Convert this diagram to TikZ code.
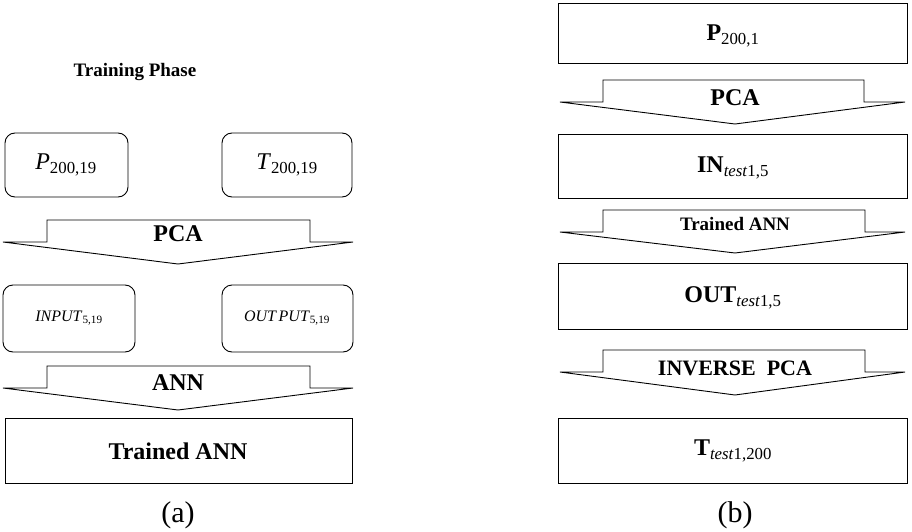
\documentclass[tikz,border=0pt]{standalone}
\usepackage{fontspec}
\setmainfont{Liberation Serif}
\newcommand{\sbs}[1]{\textsubscript{#1}}
\begin{document}
\begin{tikzpicture}[x=1pt,y=-1pt,line width=0.9pt,
  rbox/.style={draw,rounded corners=10pt},
  sbox/.style={draw},
  lbl/.style={font=\fontsize{24}{28}\selectfont\bfseries},
  txt/.style={font=\fontsize{24}{28}\selectfont},
  flow/.style={draw,line join=miter}]
\useasboundingbox (0,0) rectangle (912,532);
% left panel
\node[font=\fontsize{19}{22}\selectfont\bfseries] (title) at (135,72) {Training Phase};
\draw[rbox] (5,133) rectangle (128,197);
\node[txt] (p) at (66,165) {\textit{P}\sbs{200,19}};
\draw[rbox] (222,133) rectangle (352,197);
\node[txt] (t) at (287,165) {\textit{T}\sbs{200,19}};
\draw[flow] (3,242) -- (47,242) -- (47,220) -- (310,220) -- (310,242) -- (353,242) -- (178,264) -- cycle;
\node[lbl] (pca1) at (178,234) {PCA};
\draw[rbox] (3,285) rectangle (135,352);
\node[font=\fontsize{16}{18}\selectfont] (in) at (69,318) {\textit{INPUT}\sbs{5,19}};
\draw[rbox] (222,285) rectangle (353,352);
\node[font=\fontsize{16}{18}\selectfont] (out) at (287,318) {\textit{OUT\,PUT}\sbs{5,19}};
\draw[flow] (3,388) -- (47,388) -- (47,366) -- (310,366) -- (310,388) -- (353,388) -- (178,410) -- cycle;
\node[lbl] (ann) at (178,383) {ANN};
\draw[sbox] (5,418) rectangle (352,483);
\node[lbl] (tann) at (178,451) {Trained ANN};
\node[font=\fontsize{30}{34}\selectfont] (a) at (178,515) {(a)};
% right panel
\draw[sbox] (558,3) rectangle (907,63);
\node[txt] (p2) at (733,36) {\textbf{P}\sbs{200,1}};
\draw[flow] (560,102) -- (603,102) -- (603,80) -- (864,80) -- (864,102) -- (905,102) -- (735,124) -- cycle;
\node[lbl] (pca2) at (735,98) {PCA};
\draw[sbox] (558,134) rectangle (907,198);
\node[txt] (in2) at (733,168) {\textbf{IN}\sbs{\textit{test}1,5}};
\draw[flow] (560,232) -- (603,232) -- (603,210) -- (865,210) -- (865,232) -- (905,232) -- (735,253) -- cycle;
\node[font=\fontsize{19}{22}\selectfont\bfseries] (tann2) at (735,224) {Trained ANN};
\draw[sbox] (558,263) rectangle (907,329);
\node[txt] (out2) at (733,298) {\textbf{OUT}\sbs{\textit{test}1,5}};
\draw[flow] (560,372) -- (603,372) -- (603,350) -- (865,350) -- (865,372) -- (905,372) -- (735,395) -- cycle;
\node[font=\fontsize{22}{26}\selectfont\bfseries] (ipca) at (735,368) {INVERSE\ \ PCA};
\draw[sbox] (558,418) rectangle (907,483);
\node[txt] (t2) at (733,451) {\textbf{T}\sbs{\textit{test}1,200}};
\node[font=\fontsize{30}{34}\selectfont] (b) at (735,515) {(b)};
\end{tikzpicture}
\end{document}
